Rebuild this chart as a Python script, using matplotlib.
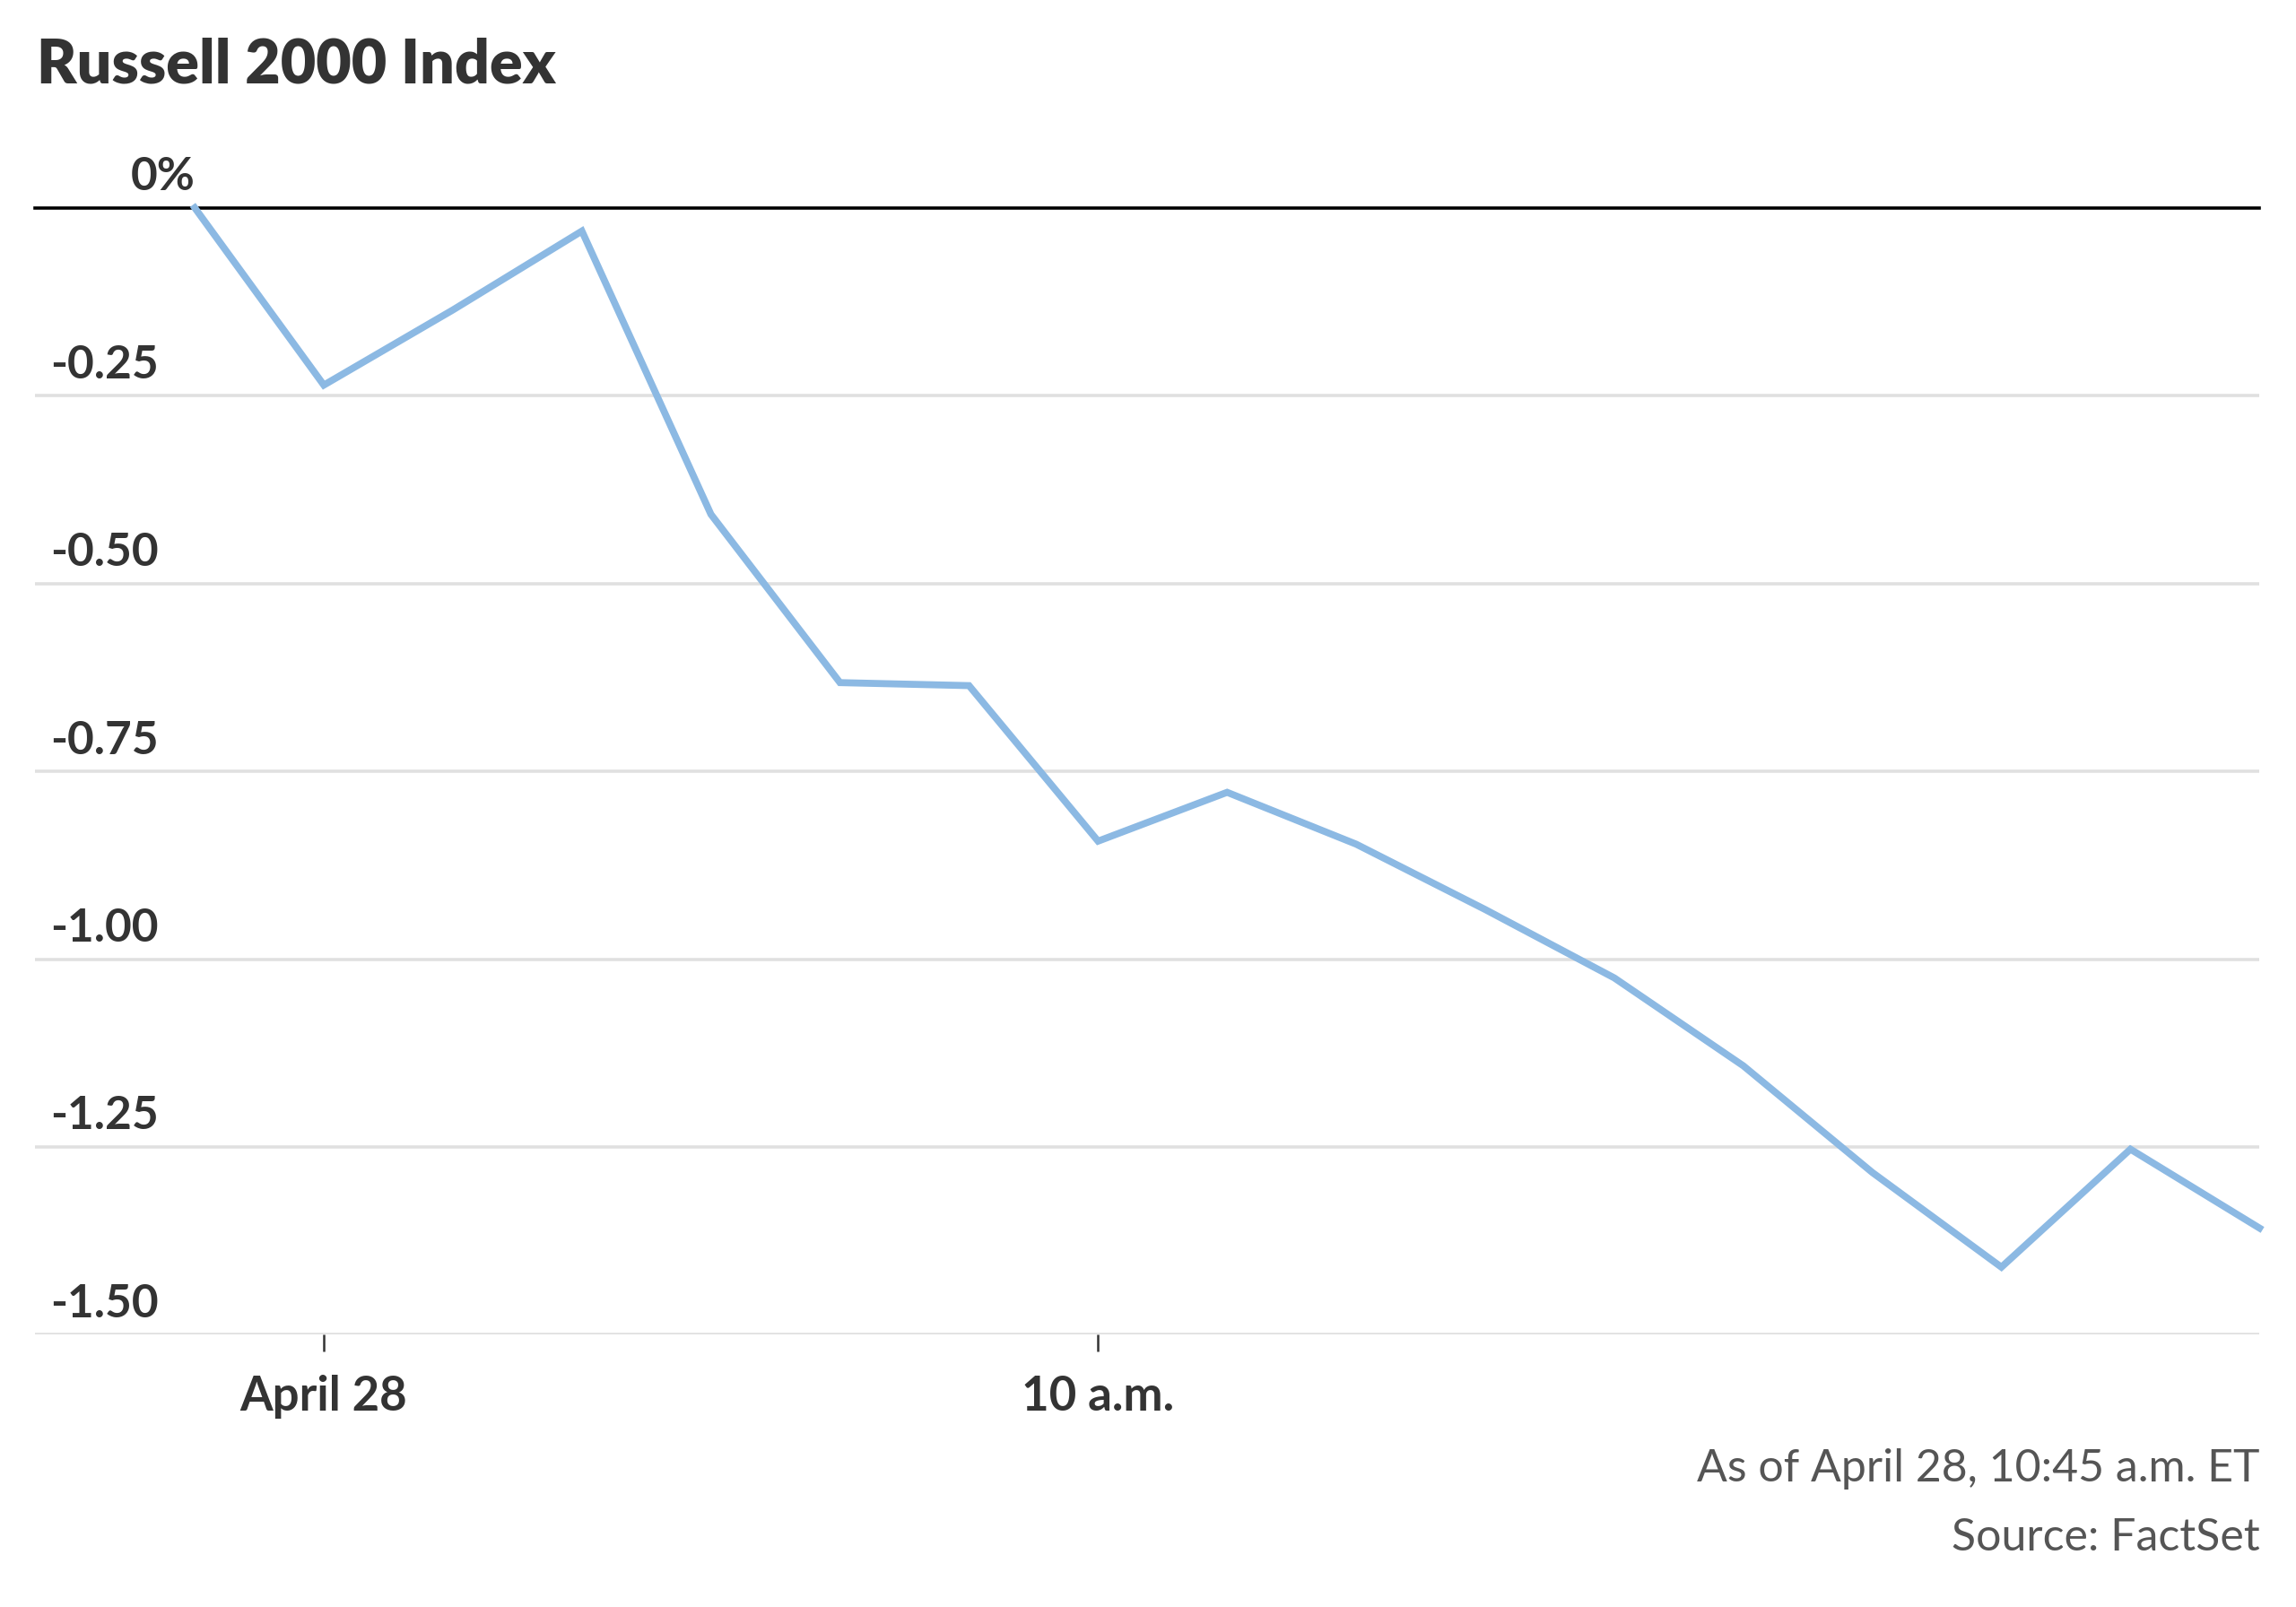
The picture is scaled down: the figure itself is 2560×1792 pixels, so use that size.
import matplotlib
matplotlib.use('Agg')
import matplotlib.pyplot as plt
import matplotlib.transforms as mtransforms

plt.rcParams['font.family'] = ['Lato', 'DejaVu Sans']

# five-minute readings, percent change from previous close
times = ['9:25', '9:30', '9:35', '9:40', '9:45', '9:50', '9:55', '10:00', '10:05',
         '10:10', '10:15', '10:20', '10:25', '10:30', '10:35', '10:40', '10:45']
pct_change = [0.0, -0.236, -0.136, -0.031, -0.408, -0.632, -0.636, -0.843, -0.778,
              -0.847, -0.934, -1.025, -1.142, -1.284, -1.410, -1.253, -1.358]

y_ticks = [0, -0.25, -0.50, -0.75, -1.00, -1.25, -1.50]
y_labels = ['0%', '-0.25', '-0.50', '-0.75', '-1.00', '-1.25', '-1.50']
x_tick_times = ['9:30', '10:00']
x_tick_labels = ['April 28', '10 a.m.']


def to_minutes(t):
    h, m = t.split(':')
    return int(h) * 60 + int(m)


x = [to_minutes(t) for t in times]
step = x[1] - x[0]

fig = plt.figure(figsize=(12.8, 8.96), dpi=200)
ax = fig.add_axes([0.0153, 0.1694, 0.9688, 0.7013])

ax.set_ylim(-1.5, 0)
ax.set_xlim(x[0] - 1.237 * step, x[-1])

for v in y_ticks[1:]:
    ax.axhline(v, color='#e0e0e0', lw=1.3, zorder=1)
ax.axhline(0, color='black', lw=1.3, zorder=2, clip_on=False)

ax.plot(x, pct_change, color='#8cb9e3', lw=2.8, zorder=3, clip_on=False,
        solid_joinstyle='miter')

for s in ax.spines.values():
    s.set_visible(False)
ax.set_yticks([])
ax.set_xticks([to_minutes(t) for t in x_tick_times])
ax.set_xticklabels(x_tick_labels, fontsize=19, fontweight='bold', color='#333333')
ax.tick_params(axis='x', length=7, width=0.9, color='#333333', pad=9)

# y labels sit just above their gridlines
trans = mtransforms.blended_transform_factory(ax.transAxes, ax.transData)
for v, lab in zip(y_ticks, y_labels):
    if v == 0:
        ax.annotate(lab, xy=(x[0], v), xytext=(0, 3.8), textcoords='offset points',
                    ha='right', va='bottom', fontsize=18.5, fontweight='bold',
                    color='#333333')
    else:
        ax.annotate(lab, xy=(0.007, v), xycoords=trans, xytext=(0, 3.8),
                    textcoords='offset points', ha='left', va='bottom',
                    fontsize=18.5, fontweight='bold', color='#333333')

fig.text(0.016, 0.977, 'Russell 2000 Index', fontsize=24.5, fontweight='heavy',
         color='#333333', ha='left', va='top')
fig.text(0.9841, 0.086, 'As of April 28, 10:45 a.m. ET', fontsize=18,
         color='#555555', ha='right', va='center')
fig.text(0.9841, 0.043, 'Source: FactSet', fontsize=18,
         color='#555555', ha='right', va='center')

fig.savefig('out.png', dpi=200, facecolor='white')
